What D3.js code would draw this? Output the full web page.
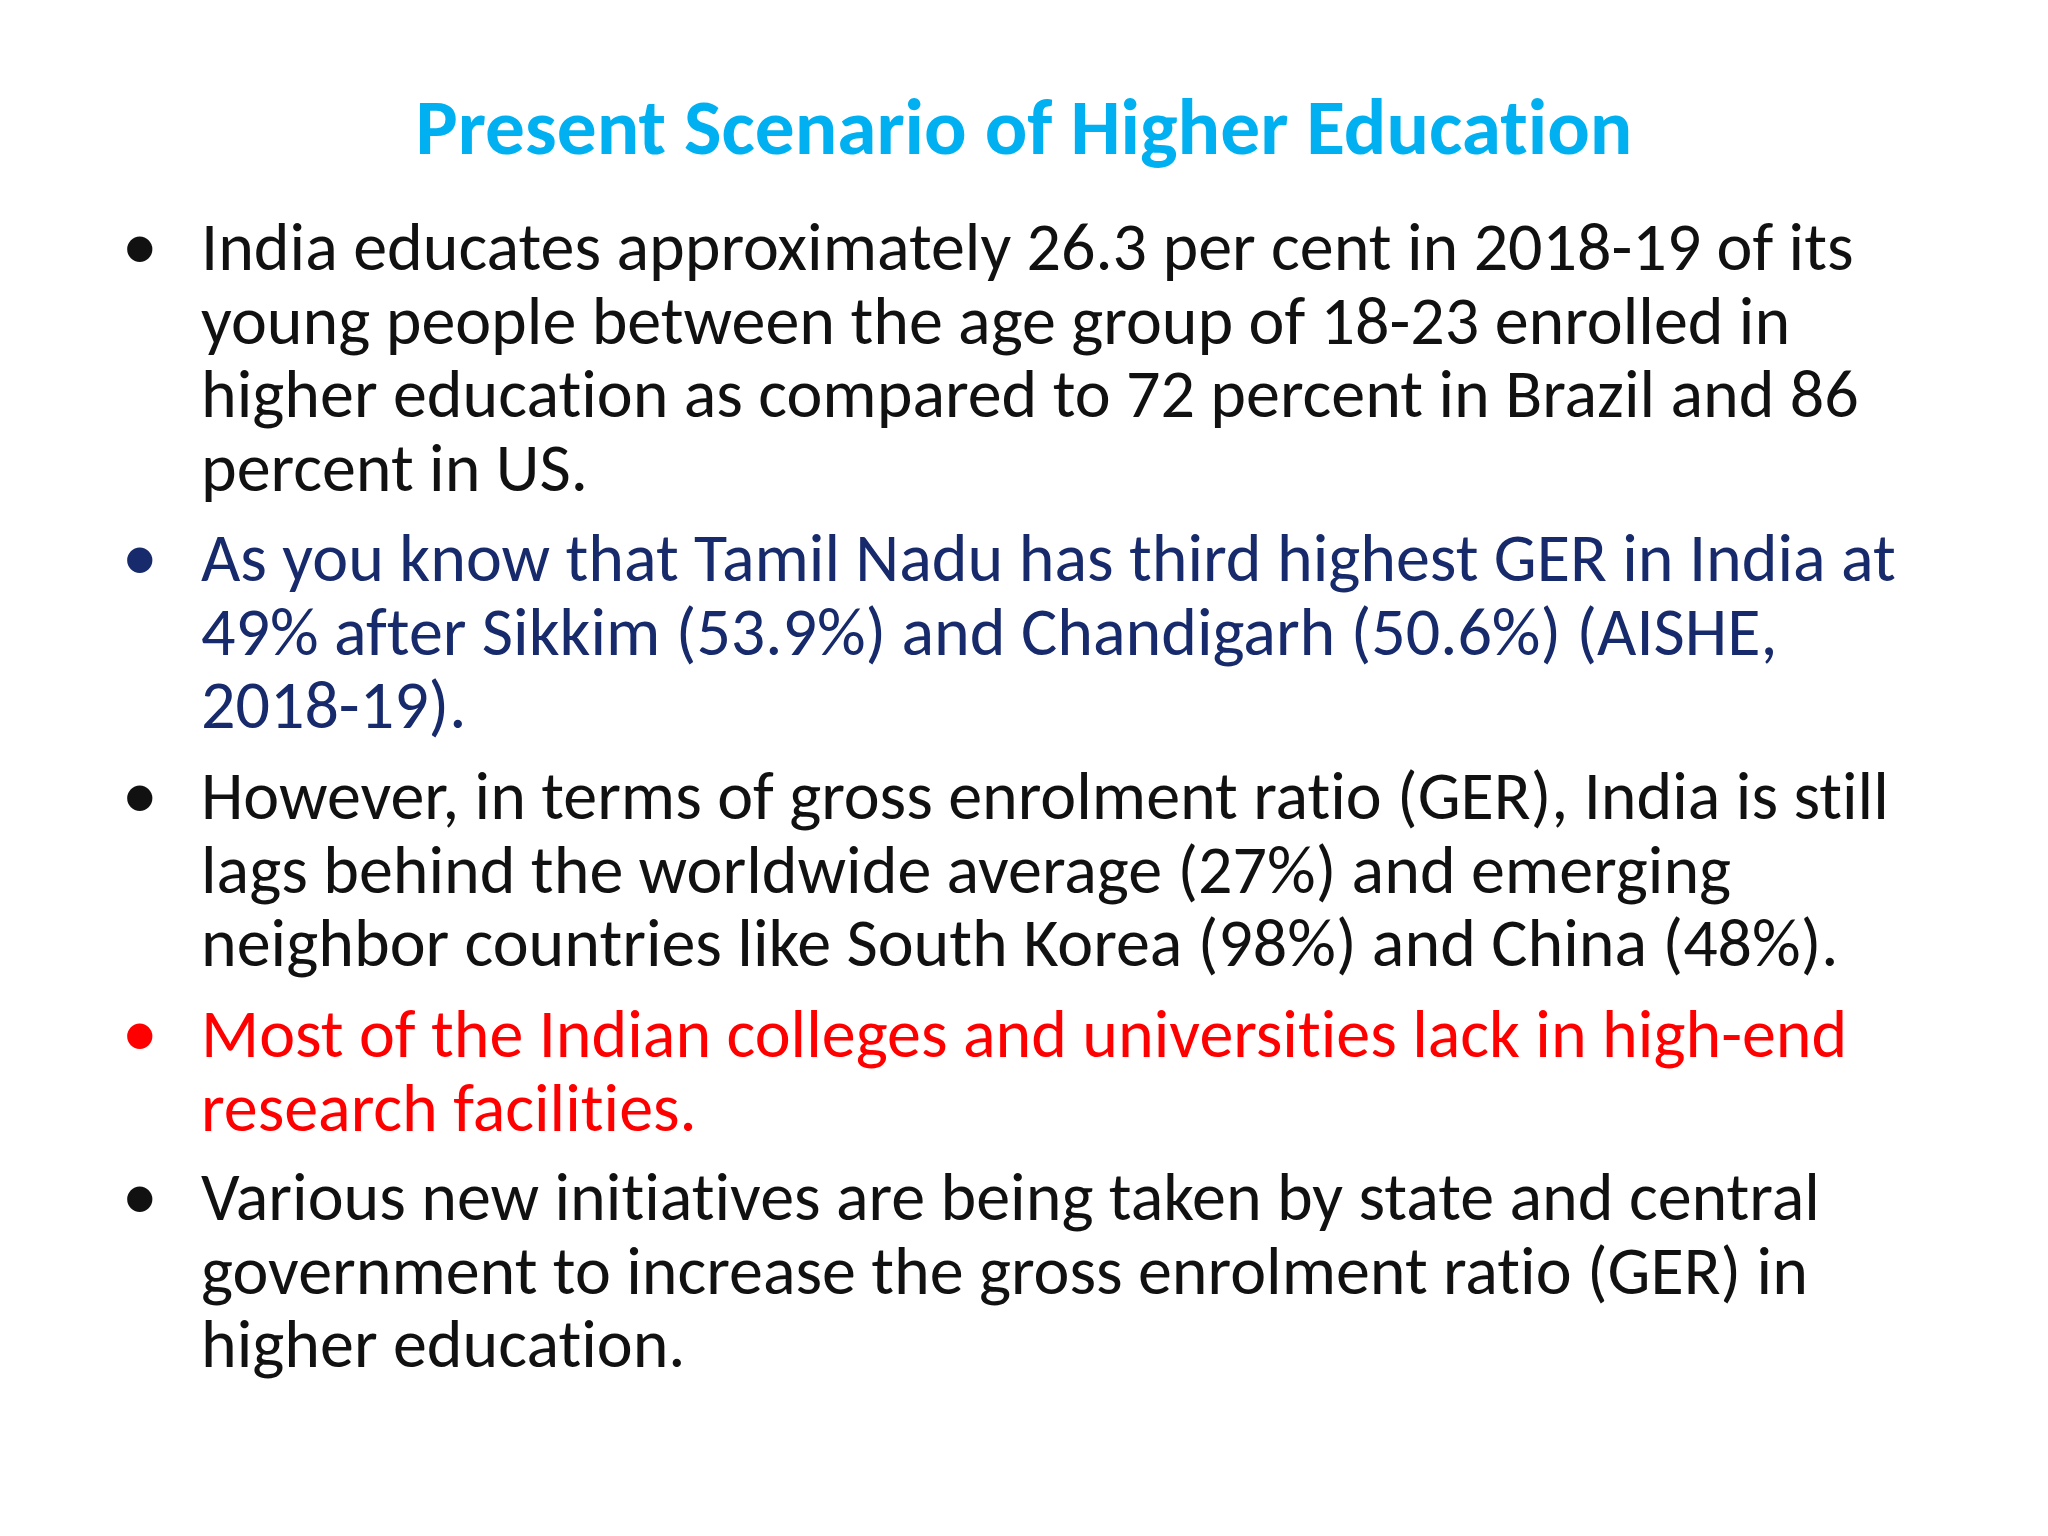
<!DOCTYPE html>
<html><head><meta charset="utf-8">
<script src="https://cdn.jsdelivr.net/npm/d3@7"></script>
<style>body{margin:0;background:#fff} text{font-variant-ligatures:none;font-feature-settings:"liga" 0}</style></head>
<body><svg id="s" width="2048" height="1536"></svg>
<script>
const title = "Present Scenario of Higher Education";
const bullet1 = ["India educates approximately 26.3 per cent in 2018-19 of its","young people between the age group of 18-23 enrolled in","higher education as compared to 72 percent in Brazil and 86","percent in US."];
const bullet2 = ["As you know that Tamil Nadu has third highest GER in India at","49% after Sikkim (53.9%) and Chandigarh (50.6%) (AISHE,","2018-19)."];
const bullet3 = ["However, in terms of gross enrolment ratio (GER), India is still","lags behind the worldwide average (27%) and emerging","neighbor countries like South Korea (98%) and China (48%)."];
const bullet4 = ["Most of the Indian colleges and universities lack in high-end","research facilities."];
const bullet5 = ["Various new initiatives are being taken by state and central","government to increase the gross enrolment ratio (GER) in","higher education."];
const bulletColors = ["#111111","#172a6b","#111111","#ff0000","#111111"];
const bullets = [bullet1,bullet2,bullet3,bullet4,bullet5];

const svg = d3.select("#s");
const font = "Carlito, Calibri, 'Open Sans', sans-serif";
const t = svg.append("text").attr("x",1024).attr("y",154).attr("text-anchor","middle")
  .attr("font-family",font).attr("font-weight","bold").attr("fill","#00b0f0")
  .attr("font-size",64).text(title);
const tw = t.node().getComputedTextLength();
t.attr("font-size",64*1217/tw);

const starts = [270,581,819,1057,1220];
const lh = 73.5;
const g = svg.append("g");
const probe = g.append("text").attr("font-family",font).attr("font-size",56).text(bullet1[0]);
const fs = 56*1653/probe.node().getComputedTextLength();
probe.remove();
bullets.forEach((lines,i)=>{
  g.append("text").attr("x",122).attr("y",starts[i]).attr("font-family",font)
    .attr("font-size",fs*1.05).attr("fill",bulletColors[i]).text("•");
  g.selectAll(null).data(lines).enter().append("text")
    .attr("x",201).attr("y",(d,j)=>starts[i]+j*lh)
    .attr("font-family",font).attr("font-size",fs).attr("fill",bulletColors[i]).text(d=>d);
});
</script></body></html>
